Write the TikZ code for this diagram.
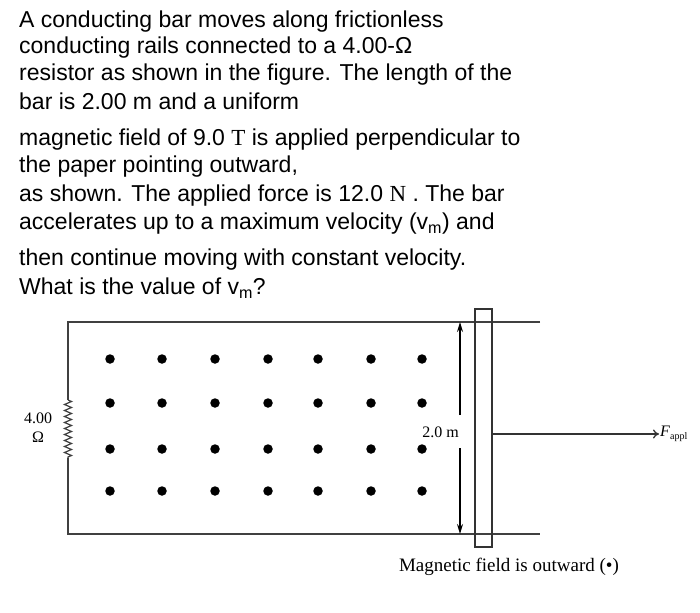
\documentclass[tikz,border=0pt]{standalone}
\usepackage{fontspec}
\setmainfont{Liberation Sans}
\newfontfamily\serif{Liberation Serif}
\usetikzlibrary{decorations.pathmorphing,arrows.meta}
\begin{document}
\begin{tikzpicture}[x=1pt,y=-1pt,
  q/.style={anchor=west,inner sep=0pt,font=\fontsize{23}{26}\selectfont},
  dot/.style={circle,fill=black,inner sep=0pt,minimum size=9.5pt},
  lab/.style={font=\serif\fontsize{16}{17}\selectfont,inner sep=0pt},
  wire/.style={line width=1.6pt,black!75}]
\useasboundingbox (0,0) rectangle (700,612);
\node[q] (l1) at (19,22) {A conducting bar moves along frictionless};
\node[q] (l2) at (19,48) {conducting rails connected to a 4.00-Ω};
\node[q] (l3) at (19,75) {resistor as shown in the figure. The length of the};
\node[q] (l4) at (19,101) {bar is 2.00 m and a uniform};
\node[q] (l5) at (19,140) {magnetic field of 9.0 {\serif T} is applied perpendicular to};
\node[q] (l6) at (19,167) {the paper pointing outward,};
\node[q] (l7) at (19,196) {as shown. The applied force is 12.0 {\serif N} . The bar};
\node[q] (l8) at (19,224) {accelerates up to a maximum velocity (v$_{\mathrm{m}}$) and};
\node[q] (l9) at (19,260) {then continue moving with constant velocity.};
\node[q] (l10) at (19,288) {What is the value of v$_{\mathrm{m}}$?};
% circuit
\coordinate (tl) at (68,322); \coordinate (tr) at (540,322);
\coordinate (bl) at (68,534); \coordinate (br) at (540,534);
\coordinate (ra) at (68,400); \coordinate (rb) at (68,458);
\draw[wire] (tr) -- (tl) -- (ra);
\draw[wire,line width=1.2pt,decorate,decoration={zigzag,segment length=6pt,amplitude=3.5pt}] (ra) -- (rb);
\draw[wire] (rb) -- (bl) -- (br);
\node[lab,align=center] (R) at (38,428) {4.00\\[2pt]Ω};
\foreach \x in {110,162,215,268,318,371,422}
  \foreach \y in {359,403,449,491}
    \node[dot] at (\x,\y) {};
\node[draw,line width=1.6pt,black!80,minimum width=17pt,minimum height=238pt,inner sep=0pt] (bar) at (483.5,428) {};
\node[lab,anchor=east] (len) at (459,432) {2.0 m};
\coordinate (dt) at (460,322); \coordinate (db) at (460,534);
\coordinate (gt) at (460,415); \coordinate (gb) at (460,448);
\draw[-{Stealth[length=10pt,width=6pt]},line width=1.2pt] (gt) -- (dt);
\draw[-{Stealth[length=10pt,width=6pt]},line width=1.2pt] (gb) -- (db);
\node[lab,anchor=west,inner sep=1pt] (F) at (659,434) {\textit{F}\raisebox{-3pt}{\fontsize{10}{11}\selectfont appl}};
\draw[-{To[length=6pt,width=9pt]},line width=1.3pt,black!80] (bar.east |- F.west) -- (F.west);
\node[lab,font=\serif\fontsize{19}{20}\selectfont] (cap) at (509,567) {Magnetic field is outward (•)};
\end{tikzpicture}
\end{document}
